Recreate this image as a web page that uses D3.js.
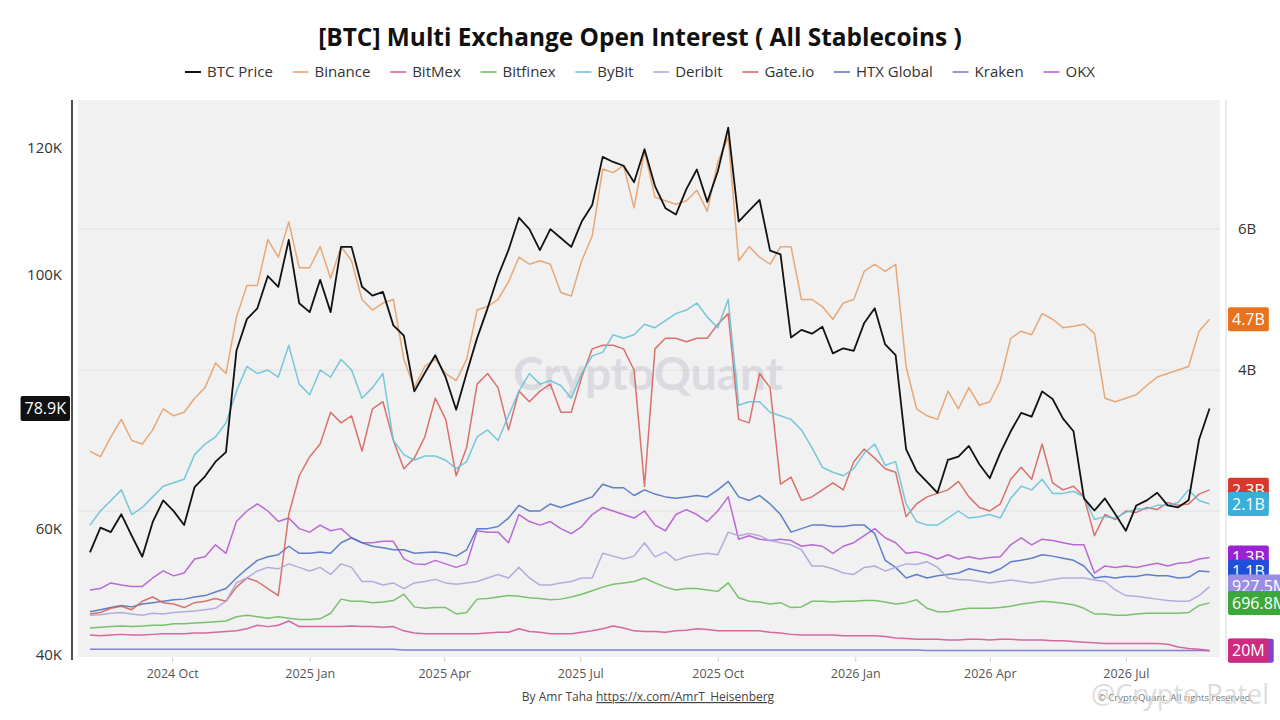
<!DOCTYPE html>
<html><head><meta charset="utf-8">
<script src="https://cdn.jsdelivr.net/npm/d3@7"></script>
<style>body{margin:0;background:#fff;}svg{display:block;font-family:"Open Sans","Noto Sans",sans-serif;}</style>
</head><body><svg id="c" width="1280" height="720"></svg>
<script>
const dates = [
"2024-08-07","2024-08-14","2024-08-21","2024-08-28","2024-09-04","2024-09-11","2024-09-18","2024-09-25",
"2024-10-02","2024-10-09","2024-10-16","2024-10-23","2024-10-30","2024-11-06","2024-11-13","2024-11-20","2024-11-27",
"2024-12-04","2024-12-11","2024-12-18","2024-12-25","2025-01-01","2025-01-08","2025-01-15","2025-01-22","2025-01-29",
"2025-02-05","2025-02-12","2025-02-19","2025-02-26","2025-03-05","2025-03-12","2025-03-19","2025-03-26",
"2025-04-02","2025-04-09","2025-04-16","2025-04-23","2025-04-30","2025-05-07","2025-05-14","2025-05-21","2025-05-28",
"2025-06-04","2025-06-11","2025-06-18","2025-06-25","2025-07-02","2025-07-09","2025-07-16","2025-07-23","2025-07-30",
"2025-08-06","2025-08-13","2025-08-20","2025-08-27","2025-09-03","2025-09-10","2025-09-17","2025-09-24",
"2025-10-01","2025-10-08","2025-10-15","2025-10-22","2025-10-29","2025-11-05","2025-11-12","2025-11-19","2025-11-26",
"2025-12-03","2025-12-10","2025-12-17","2025-12-24","2025-12-31","2026-01-07","2026-01-14","2026-01-21","2026-01-28",
"2026-02-04","2026-02-11","2026-02-18","2026-02-25","2026-03-04","2026-03-11","2026-03-18","2026-03-25",
"2026-04-01","2026-04-08","2026-04-15","2026-04-22","2026-04-29","2026-05-06","2026-05-13","2026-05-20","2026-05-27",
"2026-06-03","2026-06-10","2026-06-17","2026-06-24","2026-07-01","2026-07-08","2026-07-15","2026-07-22","2026-07-29",
"2026-08-05","2026-08-12","2026-08-19","2026-08-26"];

// BTC price, thousands of USD (left axis)
const btcPrice = [
56.2,60.1,59.4,62.2,58.8,55.5,61.0,64.4,62.7,60.5,66.5,68.2,70.5,72.0,88.0,93.0,94.7,99.8,98.1,105.5,95.5,94.1,99.2,94.1,104.4,104.4,98.1,
96.7,97.3,92.0,90.4,81.6,84.5,87.3,83.8,78.7,84.5,90.0,94.7,99.8,103.9,109.0,107.2,103.9,107.2,105.8,104.4,108.4,111.0,118.6,117.8,117.2,114.6,119.8,114.0,
110.5,109.5,113.5,116.6,111.5,116.3,123.2,108.4,110.1,111.8,103.8,103.2,90.1,91.3,90.7,91.8,87.6,88.4,88.0,92.4,94.7,89.0,87.3,72.5,69.0,67.3,65.6,70.8,
71.3,73.0,70.1,67.9,71.9,75.3,78.2,77.6,81.6,80.4,77.3,75.3,64.7,62.8,64.7,62.2,59.6,63.6,64.4,65.6,63.6,63.3,64.4,74.0,78.9];

// Open interest, billions of USD (right axis)
const binance = [
2.85,2.77,3.05,3.3,3.0,2.95,3.15,3.45,3.35,3.4,3.6,3.75,4.1,3.95,4.75,5.2,5.2,5.85,5.6,6.1,5.45,5.45,5.75,5.3,5.75,5.55,5.0,
4.85,4.95,5.0,4.15,3.75,4.05,4.15,3.95,3.85,4.15,4.85,4.9,5.0,5.25,5.6,5.5,5.55,5.5,5.1,5.05,5.55,5.9,6.85,6.8,6.9,6.3,7.1,6.45,
6.4,6.35,6.4,6.55,6.25,6.95,7.3,5.55,5.75,5.6,5.5,5.75,5.75,5.0,5.0,4.9,4.72,4.95,5.0,5.4,5.5,5.4,5.5,4.05,3.45,3.35,3.3,3.7,
3.45,3.75,3.5,3.55,3.85,4.45,4.55,4.5,4.8,4.72,4.6,4.62,4.65,4.52,3.6,3.55,3.6,3.65,3.78,3.9,3.95,4.0,4.05,4.55,4.72];
const bitmex = [
0.24,0.23,0.24,0.25,0.24,0.24,0.25,0.26,0.26,0.26,0.27,0.27,0.28,0.29,0.3,0.33,0.38,0.36,0.38,0.44,0.36,0.36,0.36,0.36,0.36,0.37,0.36,
0.36,0.35,0.36,0.3,0.27,0.26,0.26,0.26,0.26,0.26,0.26,0.27,0.28,0.28,0.33,0.29,0.28,0.26,0.26,0.26,0.28,0.3,0.33,0.37,0.34,0.3,0.29,0.29,
0.28,0.3,0.31,0.33,0.32,0.3,0.3,0.3,0.3,0.3,0.28,0.27,0.25,0.24,0.24,0.24,0.24,0.23,0.23,0.23,0.23,0.22,0.2,0.19,0.18,0.18,0.18,0.17,
0.17,0.18,0.18,0.17,0.18,0.18,0.17,0.17,0.17,0.16,0.16,0.15,0.14,0.13,0.12,0.12,0.12,0.12,0.12,0.12,0.11,0.07,0.05,0.04,0.02];
const bitfinex = [
0.34,0.35,0.36,0.37,0.36,0.37,0.38,0.38,0.4,0.4,0.41,0.42,0.43,0.44,0.5,0.52,0.5,0.48,0.5,0.48,0.46,0.46,0.47,0.55,0.75,0.72,0.72,
0.7,0.71,0.73,0.82,0.64,0.62,0.63,0.63,0.54,0.56,0.75,0.76,0.78,0.8,0.79,0.77,0.76,0.74,0.75,0.78,0.82,0.87,0.92,0.96,0.98,1.0,1.05,0.98,
0.92,0.88,0.9,0.9,0.88,0.86,0.98,0.77,0.72,0.71,0.68,0.7,0.63,0.64,0.72,0.72,0.71,0.72,0.72,0.73,0.73,0.71,0.68,0.7,0.74,0.62,0.57,0.57,
0.6,0.62,0.62,0.62,0.63,0.65,0.68,0.7,0.72,0.71,0.69,0.67,0.62,0.54,0.54,0.52,0.52,0.54,0.55,0.55,0.55,0.55,0.56,0.66,0.6968];
const bybit = [
1.8,2.0,2.15,2.3,1.95,2.05,2.2,2.35,2.4,2.45,2.8,2.95,3.05,3.25,3.7,4.05,3.95,4.0,3.9,4.35,3.8,3.65,4.0,3.9,4.15,4.0,3.6,
3.75,3.95,3.0,2.8,2.72,2.78,2.78,2.72,2.6,2.7,3.05,3.15,3.0,3.35,3.7,3.95,3.8,3.85,3.78,3.6,3.95,4.2,4.25,4.5,4.45,4.5,4.65,4.6,
4.7,4.8,4.85,4.95,4.75,4.6,5.0,3.5,3.55,3.55,3.4,3.35,3.3,3.15,2.9,2.62,2.55,2.5,2.6,2.82,2.95,2.65,2.7,2.1,1.85,1.8,1.8,1.9,
2.0,1.9,1.92,1.95,1.9,2.18,2.35,2.3,2.45,2.25,2.25,2.28,2.2,1.88,1.92,1.9,1.98,2.03,2.03,2.08,2.08,2.12,2.3,2.15,2.1];
const deribit = [
0.52,0.53,0.55,0.56,0.54,0.52,0.55,0.54,0.56,0.57,0.58,0.6,0.62,0.72,0.98,1.05,1.15,1.2,1.18,1.25,1.2,1.15,1.2,1.1,1.25,1.2,1.0,
1.0,0.95,0.98,0.9,0.98,1.0,1.03,0.98,0.96,0.98,1.0,1.05,1.1,1.05,1.2,1.05,0.95,0.95,0.98,1.0,1.05,1.05,1.4,1.36,1.32,1.36,1.55,1.35,
1.42,1.3,1.35,1.38,1.4,1.38,1.7,1.65,1.68,1.65,1.58,1.55,1.52,1.45,1.22,1.22,1.18,1.12,1.1,1.2,1.22,1.15,1.2,1.25,1.24,1.28,1.2,1.05,
1.03,1.02,1.0,0.98,1.0,1.02,1.0,0.98,1.0,1.03,1.05,1.05,1.05,1.02,1.0,0.88,0.8,0.79,0.77,0.75,0.73,0.72,0.72,0.8,0.9275];
const gateio = [
0.54,0.56,0.62,0.65,0.6,0.72,0.78,0.7,0.68,0.63,0.7,0.72,0.76,0.72,0.92,1.05,1.0,0.9,0.8,1.95,2.5,2.77,2.95,3.4,3.25,3.35,2.85,
3.45,3.55,3.0,2.6,2.75,3.05,3.6,3.3,2.5,2.9,3.8,3.95,3.75,3.15,3.7,3.55,3.7,3.8,3.4,3.4,3.9,4.3,4.35,4.35,4.3,4.0,2.35,4.3,
4.45,4.45,4.4,4.45,4.45,4.65,4.8,3.3,3.25,3.95,3.75,2.38,2.48,2.15,2.2,2.3,2.4,2.3,2.7,2.88,2.75,2.6,2.55,1.92,2.1,2.2,2.25,2.3,
2.42,2.2,2.05,2.0,2.1,2.45,2.62,2.45,2.95,2.4,2.3,2.35,2.2,1.65,1.95,1.88,2.0,1.98,2.05,2.02,2.12,2.08,2.1,2.24,2.3];
const htxGlobal = [
0.57,0.6,0.63,0.66,0.64,0.68,0.7,0.72,0.74,0.75,0.78,0.8,0.85,0.9,1.05,1.18,1.3,1.35,1.38,1.5,1.4,1.4,1.42,1.4,1.55,1.62,1.55,
1.5,1.48,1.45,1.45,1.4,1.41,1.42,1.4,1.36,1.45,1.75,1.75,1.78,1.9,2.08,2.0,2.0,2.1,2.05,2.1,2.15,2.2,2.38,2.33,2.33,2.22,2.3,2.24,
2.2,2.18,2.2,2.22,2.2,2.3,2.42,2.2,2.15,2.22,2.1,1.95,1.7,1.75,1.8,1.8,1.78,1.78,1.8,1.8,1.68,1.3,1.2,1.05,1.1,1.05,1.08,1.1,
1.12,1.18,1.15,1.12,1.18,1.28,1.3,1.33,1.38,1.36,1.33,1.3,1.22,1.05,1.07,1.05,1.07,1.07,1.1,1.08,1.08,1.05,1.06,1.15,1.14];
const kraken = [
0.04,0.04,0.04,0.04,0.04,0.04,0.04,0.04,0.04,0.04,
0.04,0.04,0.04,0.04,0.04,0.04,0.04,0.04,0.04,0.04,
0.04,0.04,0.04,0.04,0.04,0.04,0.04,0.04,0.04,0.04,
0.03,0.03,0.03,0.03,0.03,0.03,0.03,0.03,0.03,0.03,
0.03,0.03,0.03,0.03,0.03,0.03,0.03,0.03,0.03,0.03,
0.03,0.03,0.03,0.03,0.03,0.03,0.03,0.03,0.03,0.03,
0.03,0.03,0.03,0.03,0.03,0.03,0.03,0.03,0.03,0.03,
0.03,0.03,0.03,0.03,0.03,0.03,0.03,0.03,0.03,0.03,
0.02,0.02,0.02,0.02,0.02,0.02,0.02,0.02,0.02,0.02,
0.02,0.02,0.02,0.02,0.02,0.02,0.02,0.02,0.02,0.02,
0.02,0.02,0.02,0.02,0.02,0.02,0.02,0.018];
const okx = [
0.88,0.9,0.98,0.95,0.93,0.93,1.05,1.15,1.08,1.12,1.32,1.35,1.52,1.4,1.85,2.0,2.1,2.0,1.85,1.9,1.75,1.7,1.8,1.72,1.75,1.62,1.55,
1.55,1.57,1.57,1.32,1.25,1.24,1.3,1.25,1.2,1.25,1.72,1.7,1.7,1.55,1.95,1.85,1.8,1.85,1.75,1.68,1.78,1.95,2.05,2.0,1.95,1.9,2.0,1.8,
1.72,1.95,2.02,1.95,1.85,2.0,2.2,1.6,1.65,1.6,1.58,1.6,1.58,1.5,1.52,1.5,1.4,1.5,1.55,1.65,1.75,1.62,1.55,1.4,1.42,1.38,1.32,1.38,
1.32,1.35,1.32,1.34,1.35,1.52,1.62,1.52,1.6,1.58,1.55,1.52,1.52,1.12,1.22,1.2,1.22,1.2,1.23,1.26,1.22,1.26,1.27,1.32,1.34];

const seriesNames = ["BTC Price","Binance","BitMex","Bitfinex","ByBit","Deribit","Gate.io","HTX Global","Kraken","OKX"];
const xTickDates = ["2024-10-01","2025-01-01","2025-04-01","2025-07-01","2025-10-01","2026-01-01","2026-04-01","2026-07-01"];
const xTickLabels = ["2024 Oct","2025 Jan","2025 Apr","2025 Jul","2025 Oct","2026 Jan","2026 Apr","2026 Jul"];
const leftTicks = [40,60,100,120];
const rightTicks = [2,4,6];

// styles (kept apart from data)
const lineColors = ["#111111","#e6a06a","#d4579a","#6cbb5e","#68c1d9","#aba4dd","#d6645e","#4f72c1","#7774d0","#b45ad1"];
const labelColors = ["#111111","#e8731c","#cf2a80","#3ba83a","#38b0d9","#9a8ee4","#d9382e","#2150d6","#7b45d6","#9b22d4"];

const parse = d3.timeParse("%Y-%m-%d");
const dts = dates.map(parse);
const svg = d3.select("#c");
const plot = {l:78, r:1220, t:100, b:657};

const x = d3.scaleTime().domain([parse("2024-07-30"), parse("2026-09-02")]).range([plot.l, plot.r]);
const yL = d3.scaleLinear().domain([40,120]).range([655,148]);
const yR = d3.scaleLinear().domain([0,6]).range([652,229]);

svg.append("rect").attr("x",plot.l).attr("y",plot.t).attr("width",plot.r-plot.l).attr("height",plot.b-plot.t).attr("fill","#f1f1f1");

svg.append("g").selectAll("line").data(rightTicks).join("line")
  .attr("x1",plot.l).attr("x2",plot.r).attr("y1",d=>yR(d)).attr("y2",d=>yR(d))
  .attr("stroke","#e2e2e2").attr("stroke-width",1);

svg.append("text").attr("x",648).attr("y",390).attr("text-anchor","middle")
  .attr("font-family","Lato, 'Open Sans', sans-serif").attr("font-weight","bold").attr("font-size",46)
  .attr("fill","#c9c9d3").attr("opacity",0.55).text("CryptoQuant");

const axL = svg.append("g").attr("transform",`translate(72,0)`)
  .call(d3.axisLeft(yL).tickValues(leftTicks).tickSize(0).tickPadding(10).tickFormat(d=>d+"K"));
axL.select(".domain").remove();
axL.selectAll("text").attr("font-size",15).attr("fill","#333").attr("font-family","'Open Sans',sans-serif");
svg.append("line").attr("x1",72).attr("x2",72).attr("y1",plot.t).attr("y2",plot.b+3).attr("stroke","#222").attr("stroke-width",1.6);

const axR = svg.append("g").attr("transform",`translate(1226,0)`)
  .call(d3.axisRight(yR).tickValues(rightTicks).tickSize(0).tickPadding(12).tickFormat(d=>d+"B"));
axR.select(".domain").remove();
axR.selectAll("text").attr("font-size",15).attr("fill","#333").attr("font-family","'Open Sans',sans-serif");
svg.append("line").attr("x1",1226).attr("x2",1226).attr("y1",plot.t).attr("y2",plot.b+3).attr("stroke","#d8d8d8").attr("stroke-width",1);

const axB = svg.append("g").attr("transform",`translate(0,${plot.b})`)
  .call(d3.axisBottom(x).tickValues(xTickDates.map(parse)).tickSize(5).tickPadding(7)
  .tickFormat((d,i)=>xTickLabels[i]));
axB.select(".domain").remove();
axB.selectAll("line").attr("stroke","#d0d0d0");
axB.selectAll("text").attr("font-size",12.5).attr("fill","#555").attr("font-family","'Open Sans',sans-serif");

const allValues = [btcPrice,binance,bitmex,bitfinex,bybit,deribit,gateio,htxGlobal,kraken,okx];
const series = seriesNames.map((n,i)=>({name:n, values:allValues[i], y: i===0?yL:yR, color:lineColors[i], label:labelColors[i], idx:i}));
const gLines = svg.append("g");
series.slice().reverse().forEach(s=>{
  const line = d3.line().x((d,i)=>x(dts[i])).y(d=>s.y(d));
  gLines.append("path").datum(s.values).attr("d",line).attr("fill","none")
    .attr("stroke",s.color).attr("stroke-width",s.idx===0?1.8:1.5)
    .attr("stroke-linejoin","round").attr("opacity",s.idx===0?1:0.9);
});

// right end labels (higher values drawn first; BitMex last so it sits over Kraken)
function fmtR(v){ return v>=1 ? (+v.toFixed(1))+"B" : (+(v*1000).toFixed(1))+"M"; }
const rl = series.slice(1).map(s=>({s, v:s.values[s.values.length-1]}))
  .sort((a,b)=> b.v-a.v);
const bm = rl.findIndex(o=>o.s.name==="BitMex");
rl.push(rl.splice(bm,1)[0]);
const gR = svg.append("g");
rl.forEach(o=>{
  const g = gR.append("g");
  const t = g.append("text").attr("x",1232).attr("y",yR(o.v)).attr("dy","0.36em")
    .attr("font-size",16).attr("fill","#fff").text(fmtR(o.v));
  const w = t.node().getComputedTextLength();
  g.insert("rect","text").attr("x",1228).attr("y",yR(o.v)-12).attr("width",w+8+(o.s.name==="Kraken"?5:0)).attr("height",24).attr("rx",2).attr("fill",o.s.label);
});

{
  const v = btcPrice[btcPrice.length-1];
  const g = svg.append("g");
  const t = g.append("text").attr("x",66).attr("y",yL(v)).attr("dy","0.36em").attr("text-anchor","end")
    .attr("font-size",16).attr("fill","#fff").text(v.toFixed(1)+"K");
  const w = t.node().getComputedTextLength();
  g.insert("rect","text").attr("x",70-w-8).attr("y",yL(v)-12.5).attr("width",w+8).attr("height",25).attr("rx",2).attr("fill","#111");
}

const title = svg.append("text").attr("x",640).attr("y",46).attr("text-anchor","middle")
  .attr("font-weight","bold").attr("font-size",24).attr("fill","#111")
  .text("[BTC] Multi Exchange Open Interest ( All Stablecoins )");
{
  const w = title.node().getComputedTextLength();
  title.attr("font-size", 24*644/w);
}

const gLeg = svg.append("g");
const items = seriesNames.map((n,i)=>{
  const g = gLeg.append("g");
  g.append("line").attr("x1",0).attr("x2",16).attr("y1",72).attr("y2",72).attr("stroke",lineColors[i]).attr("stroke-width",2).attr("opacity",i===0?1:0.75);
  const t = g.append("text").attr("x",22).attr("y",72).attr("dy","0.35em").attr("font-size",15).attr("fill","#333").text(n);
  return {g, w:22+t.node().getComputedTextLength()};
});
{
  const total = 910, sum = d3.sum(items,d=>d.w);
  const gap = (total-sum)/(items.length-1);
  let cx = 185;
  items.forEach(it=>{ it.g.attr("transform",`translate(${cx},0)`); cx += it.w+gap; });
}

const ft = svg.append("text").attr("x",648).attr("y",701).attr("text-anchor","middle").attr("font-size",12).attr("fill","#444");
ft.append("tspan").text("By Amr Taha ");
ft.append("tspan").attr("text-decoration","underline").text("https://x.com/AmrT_Heisenberg");

svg.append("text").attr("x",1098).attr("y",701).attr("font-size",9.5).attr("fill","#777").text("© CryptoQuant. All rights reserved.");
svg.append("text").attr("x",1180).attr("y",704).attr("text-anchor","middle").attr("font-size",27).attr("fill","#cfcfcf").attr("opacity",0.7).text("@Crypto Patel");
</script>
</body></html>
